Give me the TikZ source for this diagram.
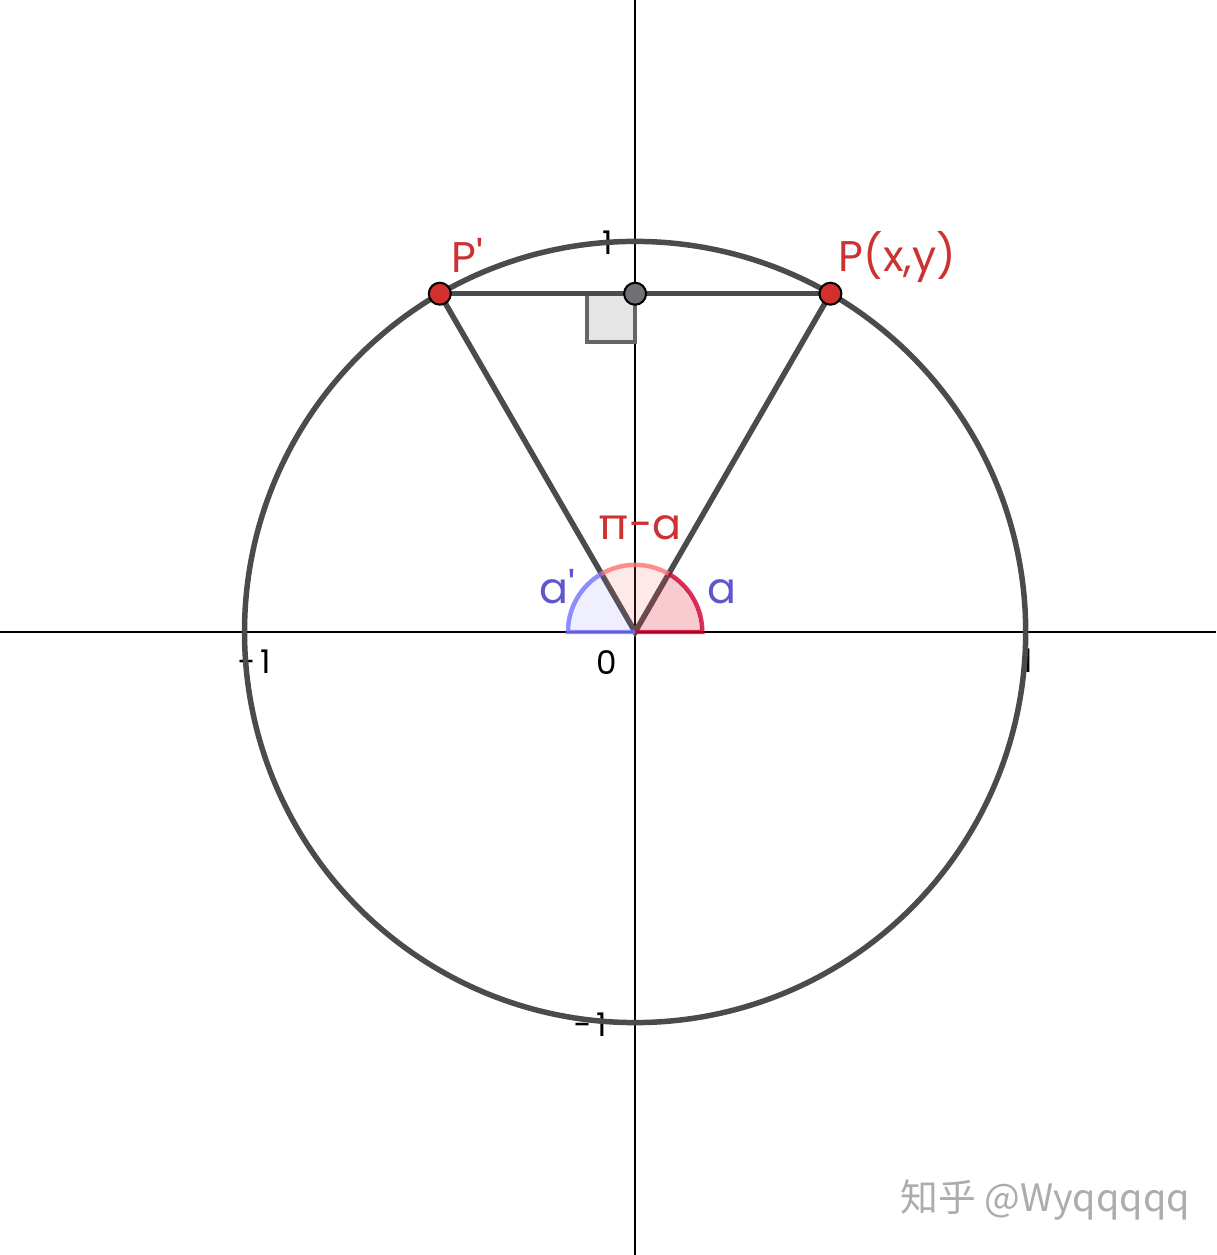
\documentclass[tikz,border=0pt]{standalone}
\usepackage{fontspec}
\setmainfont{Poppins}[Ligatures=TeXOff]
\newfontfamily\cjk{Noto Sans CJK SC}
\definecolor{ptred}{RGB}{211,47,47}
\definecolor{lblred}{RGB}{205,50,50}
\definecolor{lblblue}{RGB}{95,85,205}
\definecolor{segray}{RGB}{75,75,75}
\definecolor{ptgray}{RGB}{112,112,118}
\tikzset{
  seg/.style={line width=1.6pt,color=segray,line cap=round},
  pt/.style={draw=black,line width=0.6pt},
  lbl/.style={font=\fontsize{12.5}{14}\selectfont},
  num/.style={font=\fontsize{9.5}{11}\selectfont,inner sep=0pt},
}
\begin{document}
\begin{tikzpicture}[x=4cm,y=4cm]
    \useasboundingbox (-1.626,-1.595) rectangle (1.488,1.618);
    \fill[white] (-1.626,-1.595) rectangle (1.488,1.618);

    \coordinate (O) at (0,0);
    \coordinate (P) at (60:1);
    \coordinate (Pp) at (120:1);
    \coordinate (H) at (0,{sin(60)});

    % axes
    \draw [line width=0.5pt] (-1.626,0) -- (1.488,0);
    \draw [line width=0.5pt] (0,-1.595) -- (0,1.618);
    \foreach \n in {-1,1}{%
        \draw [line width=0.5pt] (\n,0) -- (\n,-0.02);
        \draw [line width=0.5pt] (0,\n) -- (-0.02,\n);}

    \node [num] (xm) at (-0.975,-0.077) {−\,1};
    \node [num] (xz) at (-0.072,-0.079) {0};
    \node [num] (xp) at (1.006,-0.074) {1};
    \node [num] (yp) at (-0.069,0.996) {1};
    \node [num] (ym) at (-0.115,-1.006) {−\,1};

    % unit circle
    \draw [seg] (O) circle (1);

    % right angle
    \filldraw [fill=gray!20, draw=segray!85, line width=1.2pt] (H) rectangle ++(-0.123,-0.123);

    \draw [seg] (Pp) -- (P);
    \draw [seg] (Pp) -- (O) -- (P);

    % angles
    \fill [red!60, fill opacity=0.15] (O) -- (0.172,0) arc (0:120:0.172) -- cycle;
    \fill [purple!70!red, fill opacity=0.12] (O) -- (0.172,0) arc (0:60:0.172) -- cycle;
    \draw [red!55, line width=1.3pt, opacity=0.8] (60:0.172) arc (60:120:0.172);
    \draw [purple!75!red, line width=1.3pt, opacity=0.8] (O) -- (0.172,0) arc (0:60:0.172);
    \fill [blue!50, fill opacity=0.12] (O) -- (120:0.172) arc (120:180:0.172) -- cycle;
    \draw [blue!55, line width=1.3pt, opacity=0.8] (120:0.172) arc (120:180:0.172) -- (O);

    % points
    \filldraw [pt, fill=ptred] (P) circle (3.2pt);
    \filldraw [pt, fill=ptred] (Pp) circle (3.2pt);
    \filldraw [pt, fill=ptgray] (H) circle (3.2pt);

    \node [lbl, color=lblred] (lP) at (0.671,0.960) {P(x,y)};
    \node [lbl, color=lblred] (lPp) at (-0.430,0.965) {P'};
    \node [lbl, color=lblred] (lpa) at (0.013,0.268) {π-a};
    \node [lbl, color=lblblue] (la) at (0.223,0.102) {a};
    \node [lbl, color=lblblue] (lap) at (-0.200,0.115) {a'};

    \node [color=gray!65, font=\cjk\fontsize{11}{13}\selectfont] (wm) at (1.05,-1.455) {知乎 @Wyqqqqq};
\end{tikzpicture}
\end{document}
